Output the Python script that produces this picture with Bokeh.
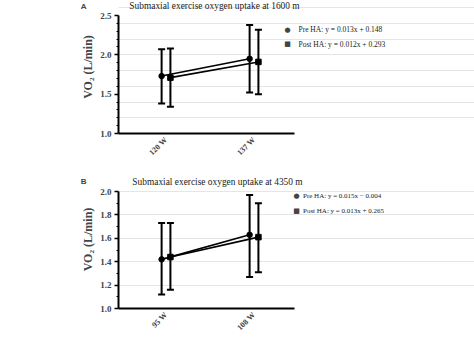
from bokeh.plotting import figure
from bokeh.layouts import column
from bokeh.models import (ColumnDataSource, Whisker, Label, FixedTicker, Range1d, LinearAxis,
                          PrintfTickFormatter)
from bokeh.embed import file_html
from bokeh.resources import INLINE
import math

# ---- data: panel A (1600 m) ----
a_loads = ["120 W", "137 W"]
a_pre_mean = [1.73, 1.95]
a_pre_low = [1.38, 1.52]
a_pre_high = [2.07, 2.38]
a_post_mean = [1.71, 1.91]
a_post_low = [1.34, 1.50]
a_post_high = [2.08, 2.32]
a_title = "Submaxial exercise oxygen uptake at 1600 m"
a_pre_label = "Pre HA: y = 0.013x + 0.148"
a_post_label = "Post HA: y = 0.012x + 0.293"
a_yticks = [1.0, 1.5, 2.0, 2.5]
a_minor = [1.1, 1.2, 1.3, 1.4, 1.6, 1.7, 1.8, 1.9, 2.1, 2.2, 2.3, 2.4]

# ---- data: panel B (4350 m) ----
b_loads = ["95 W", "108 W"]
b_pre_mean = [1.42, 1.63]
b_pre_low = [1.12, 1.27]
b_pre_high = [1.73, 1.97]
b_post_mean = [1.44, 1.61]
b_post_low = [1.16, 1.31]
b_post_high = [1.73, 1.90]
b_title = "Submaxial exercise oxygen uptake at 4350 m"
b_pre_label = "Pre HA: y = 0.015x \u2212 0.004"
b_post_label = "Post HA: y = 0.013x + 0.265"
b_yticks = [1.0, 1.2, 1.4, 1.6, 1.8, 2.0]
b_minor = [1.1, 1.3, 1.5, 1.7, 1.9]

SERIF = "Liberation Serif"
DODGE = 0.05
W = 474
FRAME_LEFT = 118
AXIS_RIGHT = 294
X_START, X_END = -0.54, 1.46


def panel(loads, pre_m, pre_l, pre_h, post_m, post_l, post_h, title, pre_lab, post_lab,
          yticks, minor, height, axis_top, axis_bottom, letter, letter_y, title_y,
          title_x, leg_x, leg_y, leg_gap, leg_font):
    # frame spans from the canvas top to the x axis and from the y axis to the right edge;
    # axis bounds keep the axis lines at their reference extent
    ylo, yhi = yticks[0], yticks[-1]
    upp_y = (yhi - ylo) / (axis_bottom - axis_top)
    y_end = yhi + axis_top * upp_y
    upp_x = (X_END - X_START) / (AXIS_RIGHT - FRAME_LEFT)
    x_end = X_START + (W - FRAME_LEFT) * upp_x

    p = figure(width=W, height=height, output_backend="svg", toolbar_location=None,
               x_range=Range1d(X_START, x_end), y_range=Range1d(ylo, y_end),
               y_axis_location=None,
               min_border_left=FRAME_LEFT, min_border_right=0, min_border_top=0,
               min_border_bottom=height - axis_bottom)
    p.outline_line_color = None
    p.xgrid.visible = False
    p.background_fill_color = "white"
    p.border_fill_color = "white"

    xs = list(range(len(loads)))
    pre = ColumnDataSource(dict(x=[x - DODGE for x in xs], m=pre_m, lo=pre_l, hi=pre_h))
    post = ColumnDataSource(dict(x=[x + DODGE for x in xs], m=post_m, lo=post_l, hi=post_h))

    for src in (pre, post):
        w = Whisker(source=src, base="x", lower="lo", upper="hi", line_color="black",
                    line_width=2)
        w.upper_head.size = 7
        w.lower_head.size = 7
        w.upper_head.line_width = 2
        w.lower_head.line_width = 2
        p.add_layout(w)
        p.line("x", "m", source=src, line_color="black", line_width=1.6)
    p.scatter("x", "m", source=pre, marker="circle", size=5.5, color="black")
    p.scatter("x", "m", source=post, marker="square", size=5.5, color="black")

    # x axis
    p.xaxis.bounds = (X_START, X_END)
    p.xaxis.ticker = FixedTicker(ticks=xs)
    p.xaxis.major_label_overrides = {x: l for x, l in zip(xs, loads)}
    p.xaxis.major_label_orientation = math.pi / 4
    p.xaxis.major_tick_line_color = None
    p.xaxis.major_tick_out = 0
    p.xaxis.major_tick_in = 0
    p.xaxis.minor_tick_line_color = None
    p.xaxis.minor_tick_out = 0
    p.xaxis.axis_line_width = 2
    p.xaxis.major_label_text_font = SERIF
    p.xaxis.major_label_text_font_style = "bold"
    p.xaxis.major_label_text_font_size = "8px"
    p.xaxis.major_label_standoff = 5

    # main y axis
    ya = LinearAxis(bounds=(ylo, yhi), ticker=FixedTicker(ticks=yticks, minor_ticks=minor),
                    formatter=PrintfTickFormatter(format="%.1f"))
    ya.axis_line_width = 2
    ya.major_tick_out = 4
    ya.major_tick_in = 0
    ya.major_tick_line_width = 1.5
    ya.minor_tick_out = 2
    ya.minor_tick_in = 0
    ya.major_label_text_font = SERIF
    ya.major_label_text_font_style = "bold"
    ya.major_label_text_font_size = "9px"
    ya.major_label_standoff = 3
    ya.axis_label = "VO\u2082 (L/min)"
    ya.axis_label_text_font = SERIF
    ya.axis_label_text_font_style = "bold"
    ya.axis_label_text_font_size = "12px"
    ya.axis_label_standoff = 2
    p.add_layout(ya, "left")

    # panel letter, carried by an outer axis with a single labelled tick
    y_letter = yhi + (axis_top - letter_y) * upp_y
    la = LinearAxis(bounds=(ylo, y_end), ticker=FixedTicker(ticks=[y_letter], minor_ticks=[]),
                    major_label_overrides={y_letter: letter})
    la.axis_line_color = None
    la.major_tick_line_color = None
    la.minor_tick_line_color = None
    la.major_label_text_font = "Liberation Sans"
    la.major_label_text_font_style = "bold"
    la.major_label_text_font_size = "8px"
    la.major_label_standoff = -14
    p.add_layout(la, "left")

    def sx(px):
        return px - FRAME_LEFT

    def sy(py):
        return axis_bottom - py

    p.add_layout(Label(x=sx(title_x), y=sy(title_y), x_units="screen", y_units="screen",
                       text=title, text_font=SERIF, text_font_size="9.4px",
                       text_align="center", text_baseline="middle", text_color="#222222"))
    for i, (sym, lab) in enumerate([("\u25cf", pre_lab), ("\u25a0", post_lab)]):
        yy = leg_y + i * 14.5
        p.add_layout(Label(x=sx(leg_x), y=sy(yy), x_units="screen", y_units="screen",
                           text=sym, text_font="DejaVu Sans", text_font_size="7px",
                           text_align="center", text_baseline="middle"))
        p.add_layout(Label(x=sx(leg_x + leg_gap), y=sy(yy), x_units="screen", y_units="screen",
                           text=lab, text_font=SERIF, text_font_size=leg_font,
                           text_align="left", text_baseline="middle", text_color="#222222"))
    return p


pa = panel(a_loads, a_pre_mean, a_pre_low, a_pre_high, a_post_mean, a_post_low, a_post_high,
           a_title, a_pre_label, a_post_label, a_yticks, a_minor,
           170, 15, 133, "A", 6, 5, 214, 287, 29, 11, "7.5px")
pb = panel(b_loads, b_pre_mean, b_pre_low, b_pre_high, b_post_mean, b_post_low, b_post_high,
           b_title, b_pre_label, b_post_label, b_yticks, b_minor,
           168, 21, 138, "B", 11, 11, 217, 296, 25.5, 6.5, "7px")

layout = column(pa, pb, spacing=0)
open("out.html", "w").write(file_html(layout, INLINE))
